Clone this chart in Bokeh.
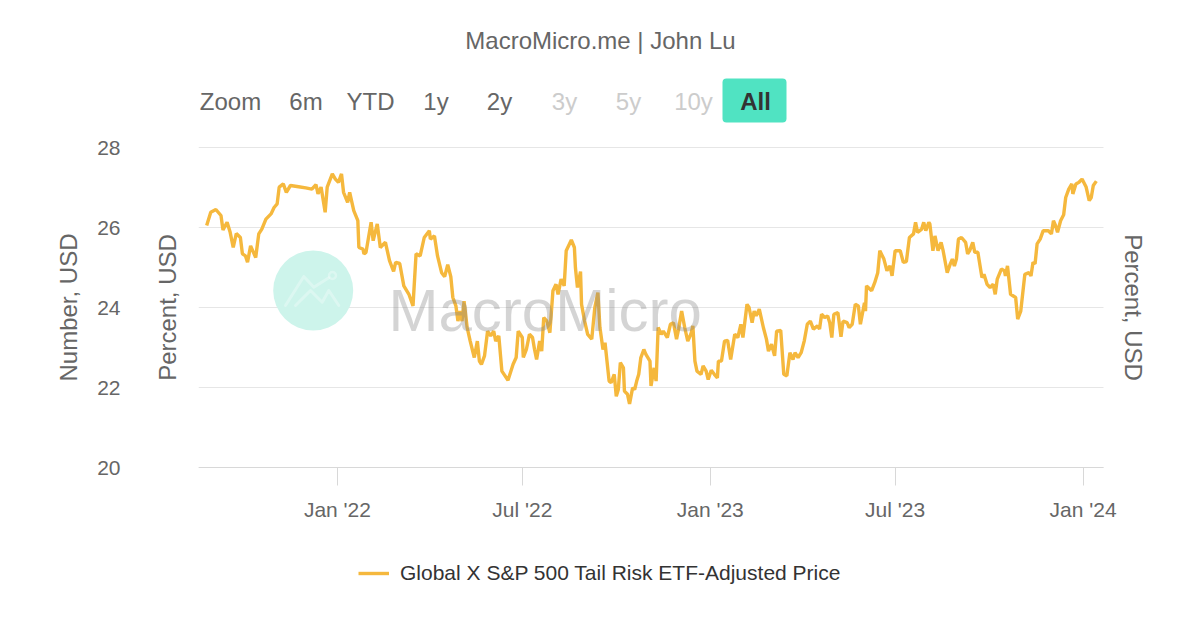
import pandas as pd
from bokeh.plotting import figure
from bokeh.models import (LinearAxis, FixedTicker, Label, BoxAnnotation, Legend,
                          LegendItem, DatetimeTickFormatter, Range1d, PolyAnnotation)
from bokeh.embed import file_html
from bokeh.resources import INLINE

# ---------------- data ----------------
title_text = "MacroMicro.me | John Lu"
series_name = "Global X S&P 500 Tail Risk ETF-Adjusted Price"
y_ticks = [20, 22, 24, 26, 28]
x_tick_dates = ["2022-01-01", "2022-07-01", "2023-01-01", "2023-07-01", "2024-01-01"]
x_tick_labels = ["Jan '22", "Jul '22", "Jan '23", "Jul '23", "Jan '24"]
range_buttons = ["Zoom", "6m", "YTD", "1y", "2y", "3y", "5y", "10y", "All"]
left_axis_title = "Number, USD"
second_axis_title = "Percent, USD"
watermark_text = "MacroMicro"
x_start, x_end = "2021-08-18", "2024-01-21"

dates = [
    "2021-08-26", "2021-08-30", "2021-09-04", "2021-09-09", "2021-09-11", "2021-09-15", "2021-09-18", "2021-09-21", "2021-09-24", "2021-09-28", "2021-09-30",
    "2021-10-03", "2021-10-05", "2021-10-08", "2021-10-13", "2021-10-16", "2021-10-19", "2021-10-23", "2021-10-28", "2021-10-31",
    "2021-11-03", "2021-11-05", "2021-11-09", "2021-11-12", "2021-11-16", "2021-11-24",
    "2021-12-01", "2021-12-07", "2021-12-11", "2021-12-13", "2021-12-16", "2021-12-20", "2021-12-22", "2021-12-27", "2021-12-30",
    "2022-01-02", "2022-01-05", "2022-01-07", "2022-01-11", "2022-01-13", "2022-01-17", "2022-01-21", "2022-01-22", "2022-01-26", "2022-01-27", "2022-01-29",
    "2022-02-03", "2022-02-05", "2022-02-09", "2022-02-12", "2022-02-17", "2022-02-21", "2022-02-25", "2022-02-27",
    "2022-03-03", "2022-03-07", "2022-03-12", "2022-03-16", "2022-03-19", "2022-03-23", "2022-03-27",
    "2022-04-01", "2022-04-02", "2022-04-06", "2022-04-09", "2022-04-13", "2022-04-16", "2022-04-19", "2022-04-22", "2022-04-24", "2022-04-27", "2022-04-29",
    "2022-05-01", "2022-05-03", "2022-05-05", "2022-05-08", "2022-05-11", "2022-05-15", "2022-05-18", "2022-05-20", "2022-05-22", "2022-05-25", "2022-05-28", "2022-05-31",
    "2022-06-03", "2022-06-05", "2022-06-08", "2022-06-11", "2022-06-17", "2022-06-22", "2022-06-25", "2022-06-27",
    "2022-07-01", "2022-07-02", "2022-07-05", "2022-07-08", "2022-07-11", "2022-07-13", "2022-07-15", "2022-07-18", "2022-07-20", "2022-07-22", "2022-07-25", "2022-07-28", "2022-07-31",
    "2022-08-03", "2022-08-05", "2022-08-08", "2022-08-11", "2022-08-13", "2022-08-18", "2022-08-21", "2022-08-22", "2022-08-24", "2022-08-27", "2022-08-28", "2022-08-31",
    "2022-09-03", "2022-09-07", "2022-09-10", "2022-09-13", "2022-09-15", "2022-09-18", "2022-09-20", "2022-09-24", "2022-09-26", "2022-09-29",
    "2022-10-01", "2022-10-03", "2022-10-05", "2022-10-08", "2022-10-09", "2022-10-12", "2022-10-14", "2022-10-17", "2022-10-19", "2022-10-21", "2022-10-23", "2022-10-25", "2022-10-28", "2022-10-30",
    "2022-11-03", "2022-11-04", "2022-11-07", "2022-11-09", "2022-11-11", "2022-11-14", "2022-11-16", "2022-11-20", "2022-11-23", "2022-11-26", "2022-11-29",
    "2022-12-01", "2022-12-04", "2022-12-07", "2022-12-10", "2022-12-13", "2022-12-15", "2022-12-17", "2022-12-19", "2022-12-23", "2022-12-25", "2022-12-28", "2022-12-30",
    "2023-01-02", "2023-01-05", "2023-01-08", "2023-01-09", "2023-01-12", "2023-01-15", "2023-01-18", "2023-01-21", "2023-01-25", "2023-01-28", "2023-01-31",
    "2023-02-02", "2023-02-06", "2023-02-08", "2023-02-11", "2023-02-13", "2023-02-15", "2023-02-18", "2023-02-22", "2023-02-25", "2023-02-27",
    "2023-03-02", "2023-03-05", "2023-03-07", "2023-03-11", "2023-03-14", "2023-03-17", "2023-03-20", "2023-03-23", "2023-03-25", "2023-03-28", "2023-03-31",
    "2023-04-03", "2023-04-06", "2023-04-09", "2023-04-12", "2023-04-16", "2023-04-18", "2023-04-20", "2023-04-23", "2023-04-26", "2023-04-28", "2023-04-30",
    "2023-05-02", "2023-05-06", "2023-05-09", "2023-05-11", "2023-05-15", "2023-05-17", "2023-05-20", "2023-05-23", "2023-05-26", "2023-05-28",
    "2023-06-01", "2023-06-02", "2023-06-03", "2023-06-08", "2023-06-11", "2023-06-14", "2023-06-16", "2023-06-20", "2023-06-23", "2023-06-26", "2023-06-28",
    "2023-07-01", "2023-07-06", "2023-07-09", "2023-07-12", "2023-07-15", "2023-07-19", "2023-07-21", "2023-07-23", "2023-07-27", "2023-07-29", "2023-07-31",
    "2023-08-03", "2023-08-04", "2023-08-07", "2023-08-09", "2023-08-12", "2023-08-15", "2023-08-17", "2023-08-21", "2023-08-24", "2023-08-26", "2023-08-28", "2023-08-30",
    "2023-09-01", "2023-09-04", "2023-09-08", "2023-09-10", "2023-09-12", "2023-09-15", "2023-09-17", "2023-09-20", "2023-09-24", "2023-09-26", "2023-09-29",
    "2023-10-02", "2023-10-05", "2023-10-07", "2023-10-09", "2023-10-13", "2023-10-16", "2023-10-17", "2023-10-19", "2023-10-22", "2023-10-27", "2023-10-29",
    "2023-11-01", "2023-11-05", "2023-11-09", "2023-11-11", "2023-11-13", "2023-11-15", "2023-11-17", "2023-11-20", "2023-11-23", "2023-11-28",
    "2023-12-01", "2023-12-03", "2023-12-05", "2023-12-07", "2023-12-10", "2023-12-13", "2023-12-15", "2023-12-18", "2023-12-21", "2023-12-22", "2023-12-25", "2023-12-28", "2023-12-31",
    "2024-01-04", "2024-01-07", "2024-01-09", "2024-01-11", "2024-01-14",
]

prices = [
    26.05, 26.38, 26.45, 26.30, 25.94, 26.13, 25.88, 25.50, 25.85, 25.75, 25.34,
    25.29, 25.13, 25.54, 25.25, 25.84, 25.96, 26.21, 26.34, 26.50,
    26.59, 27.01, 27.09, 26.88, 27.05, 27.02,
    26.99, 26.96, 27.07, 26.84, 27.01, 26.38, 27.01, 27.34, 27.21,
    27.13, 27.34, 26.88, 26.63, 26.88, 26.42, 26.17, 25.50, 25.46, 25.34, 25.38,
    26.13, 25.67, 26.09, 25.50, 25.63, 25.17, 24.90, 25.13,
    25.10, 24.54, 24.33, 24.04, 25.34, 25.29, 25.75,
    25.92, 25.71, 25.79, 25.29, 24.87, 24.77, 25.07, 24.77, 24.25, 24.04, 23.66,
    23.91, 23.66, 24.16, 23.50, 23.16, 22.75, 23.16, 22.66, 22.58, 22.79, 23.41, 23.29,
    23.41, 23.16, 23.29, 22.41, 22.18, 22.58, 22.75, 23.41,
    23.25, 22.75, 22.95, 23.33, 23.25, 22.95, 22.70, 23.16, 22.91, 23.75, 23.66, 23.37, 24.42,
    24.58, 24.33, 24.71, 24.54, 25.42, 25.69, 25.50, 25.00, 24.50, 24.90, 24.08, 23.66,
    23.33, 23.21, 24.00, 24.37, 23.50, 22.95, 23.12, 22.16, 22.12, 22.33,
    21.78, 21.95, 22.62, 22.49, 21.91, 21.83, 21.59, 21.99, 21.95, 22.16, 22.33, 22.74, 22.95, 22.83,
    22.66, 22.04, 22.49, 22.16, 23.50, 23.33, 23.41, 23.25, 23.58, 23.62, 23.21,
    23.46, 23.91, 23.50, 23.16, 23.33, 23.54, 22.66, 22.41, 22.33, 22.54, 22.41, 22.20,
    22.43, 22.33, 22.24, 22.66, 22.66, 23.16, 23.18, 22.70, 23.33, 23.25, 23.58,
    23.25, 24.08, 24.00, 23.62, 23.91, 23.79, 23.96, 23.50, 23.21, 22.91,
    23.08, 22.79, 23.41, 23.43, 22.33, 22.29, 22.87, 22.70, 22.87, 22.75, 22.87,
    23.16, 23.58, 23.66, 23.46, 23.54, 23.46, 23.83, 23.75, 23.79, 23.62, 23.25,
    23.83, 23.87, 23.27, 23.66, 23.62, 23.50, 23.58, 24.08, 24.04, 23.58,
    24.12, 23.91, 24.54, 24.42, 24.62, 24.87, 25.42, 25.21, 24.92, 25.04, 24.79,
    25.42, 25.42, 25.13, 25.15, 25.75, 25.84, 26.13, 25.88, 25.96, 26.13, 25.92,
    26.13, 26.09, 25.42, 25.79, 25.42, 25.63, 25.42, 24.87, 25.09, 25.21, 25.04, 25.21,
    25.71, 25.75, 25.63, 25.34, 25.42, 25.63, 25.38, 25.38, 24.75, 24.83, 24.58,
    24.50, 24.58, 24.33, 24.71, 24.96, 24.92, 24.79, 25.04, 24.33, 24.25, 23.71,
    23.91, 24.83, 24.87, 24.79, 25.13, 25.09, 25.59, 25.71, 25.92, 25.92,
    25.84, 26.17, 26.05, 25.88, 26.17, 26.32, 26.75, 26.96, 27.09, 26.84, 27.09, 27.13, 27.21,
    27.01, 26.67, 26.75, 27.05, 27.16,
]

# ---------------- layout / styling ----------------
FONT = "Liberation Sans"
GREY = "#666666"
LINE_COLOR = "#f5b83d"
W, H = 1184, 614
PLOT_L, PLOT_R = 198, 1103          # visible plot area (grid / axis line)
FRAME_R = 1119                      # frame a bit wider so the last tick label fits
PX_PER_UNIT = 40.0                  # 80 px per 2-unit grid step
Y_TOP = 28 + 147 / PX_PER_UNIT      # 28 sits 147 px below the canvas top
Y_BOT = 20 - (H - 467) / PX_PER_UNIT  # 20 sits at 467 px


def sx(page_x):
    return page_x - PLOT_L


def sy(page_y):
    return H - page_y


t0, t1 = pd.Timestamp(x_start), pd.Timestamp(x_end)
t1_frame = t1 + (t1 - t0) * ((FRAME_R - PLOT_R) / (PLOT_R - PLOT_L))
x = pd.to_datetime(dates)

p = figure(width=W, height=H, x_axis_type="datetime",
           x_range=(t0, t1_frame),
           y_range=Range1d(Y_BOT, Y_TOP), output_backend="svg", toolbar_location=None,
           title=None, min_border_left=PLOT_L, min_border_right=W - FRAME_R,
           min_border_top=0, min_border_bottom=0)
p.outline_line_color = None

p.xgrid.visible = False
ygrid = p.ygrid[0]
ygrid.ticker = FixedTicker(ticks=y_ticks)
ygrid.grid_line_color = "#e6e6e6"
ygrid.grid_line_width = 1
if "cross_bounds" in ygrid.properties():
    ygrid.cross_bounds = (t0.value / 1e6, t1.value / 1e6)


def label_only_axis(ax, label, standoff):
    ax.ticker = FixedTicker(ticks=[])
    ax.axis_line_color = None
    ax.major_tick_line_color = None
    ax.minor_tick_line_color = None
    ax.major_tick_out = 0
    ax.major_tick_in = 0
    ax.minor_tick_out = 0
    ax.minor_tick_in = 0
    ax.major_label_standoff = 0
    ax.axis_label = label
    ax.axis_label_standoff = standoff
    ax.axis_label_text_font = FONT
    ax.axis_label_text_font_size = "24px"
    ax.axis_label_text_font_style = "normal"
    ax.axis_label_text_color = GREY


# inner left axis: only its title
label_only_axis(p.yaxis[0], second_axis_title, 18)

# outer left axis: tick labels and title
yo = LinearAxis(ticker=FixedTicker(ticks=y_ticks), axis_label=left_axis_title)
yo.axis_line_color = None
yo.major_tick_line_color = None
yo.minor_tick_line_color = None
yo.major_tick_out = 0
yo.major_tick_in = 0
yo.minor_tick_out = 0
yo.minor_tick_in = 0
yo.major_label_standoff = 30
yo.major_label_text_font = FONT
yo.major_label_text_font_size = "21px"
yo.major_label_text_color = GREY
yo.axis_label_standoff = 12
yo.axis_label_text_font = FONT
yo.axis_label_text_font_size = "24px"
yo.axis_label_text_font_style = "normal"
yo.axis_label_text_color = GREY
p.add_layout(yo, "left")

# right axis: only its title
yr = LinearAxis()
label_only_axis(yr, second_axis_title, 0)
p.add_layout(yr, "right")

# x axis drawn at the value 20
xa = p.xaxis[0]
xa.fixed_location = 20
xa.bounds = (t0, t1)
tick_ms = [pd.Timestamp(d).value / 1e6 for d in x_tick_dates]
xa.ticker = FixedTicker(ticks=tick_ms)
xa.formatter = DatetimeTickFormatter(days="%b '%y", months="%b '%y", years="%b '%y")
xa.major_label_overrides = {t: lab for t, lab in zip(tick_ms, x_tick_labels)}
xa.axis_line_color = "#d8d8d8"
xa.major_tick_line_color = "#d8d8d8"
xa.minor_tick_line_color = None
xa.major_tick_out = 18
xa.major_tick_in = 0
xa.major_label_standoff = 12
xa.major_label_text_font = FONT
xa.major_label_text_font_size = "21px"
xa.major_label_text_color = GREY

# watermark logo (disc with a white chart icon)
p.add_layout(BoxAnnotation(left=sx(272.7), right=sx(352.7), top=sy(250), bottom=sy(330),
                           left_units="screen", right_units="screen",
                           top_units="screen", bottom_units="screen",
                           fill_color="#cdf4eb", fill_alpha=1.0, line_color=None,
                           border_radius=40, level="underlay"))
icon_paths = [
    [(285, 305), (303.3, 276), (313.3, 286.7), (328.3, 277.3)],
    [(295, 305), (310, 290), (321.7, 301.7), (328.3, 290), (338.3, 305)],
]
for path in icon_paths:
    pts = path + path[-2:0:-1]
    p.add_layout(PolyAnnotation(xs=[sx(a) for a, _ in pts], ys=[sy(b) for _, b in pts],
                                xs_units="screen", ys_units="screen",
                                fill_color=None, line_color="white", line_width=3,
                                line_join="round", level="underlay"))
p.add_layout(BoxAnnotation(left=sx(328.5), right=sx(335.5), top=sy(271.5), bottom=sy(278.5),
                           left_units="screen", right_units="screen",
                           top_units="screen", bottom_units="screen",
                           fill_color=None, line_color="white", line_width=2.5,
                           border_radius=4, level="underlay"))

# the series
r = p.line(x, prices, line_color=LINE_COLOR, line_width=3.4)

p.add_layout(Label(x=sx(388), y=sy(310), x_units="screen", y_units="screen",
                   text=watermark_text, text_baseline="alphabetic", text_align="left",
                   text_font=FONT, text_font_size="60px", text_color="#808080",
                   text_alpha=0.34))

# chart title
p.add_layout(Label(x=sx(600), y=sy(40), x_units="screen", y_units="screen",
                   text=title_text, text_align="center", text_baseline="middle",
                   text_font=FONT, text_font_size="24px", text_color=GREY))

# range selector
button_x = [230, 305.5, 370, 435.5, 499, 564, 628, 693, 755]
button_colors = [GREY] * 5 + ["#cccccc"] * 3 + ["#333333"]
p.add_layout(BoxAnnotation(left=sx(722), right=sx(786), top=sy(78), bottom=sy(122),
                           left_units="screen", right_units="screen",
                           top_units="screen", bottom_units="screen",
                           fill_color="#50e3c2", fill_alpha=1.0, line_color=None,
                           border_radius=4))
for lab, bx, col in zip(range_buttons, button_x, button_colors):
    p.add_layout(Label(x=sx(bx), y=sy(101), x_units="screen", y_units="screen",
                       text=lab, text_align="center", text_baseline="middle",
                       text_font=FONT, text_font_size="24px", text_color=col,
                       text_font_style="bold" if lab == "All" else "normal"))

# legend under the axis, inside the frame
leg = Legend(items=[LegendItem(label=series_name, renderers=[r])],
             location=(sx(358), sy(585)), orientation="horizontal",
             glyph_width=31, glyph_height=20, label_standoff=11,
             padding=0, margin=0, border_line_color=None,
             background_fill_alpha=0, label_text_font=FONT,
             label_text_font_size="21px", label_text_color="#333333")
p.add_layout(leg, "center")

open("out.html", "w").write(file_html(p, INLINE))
